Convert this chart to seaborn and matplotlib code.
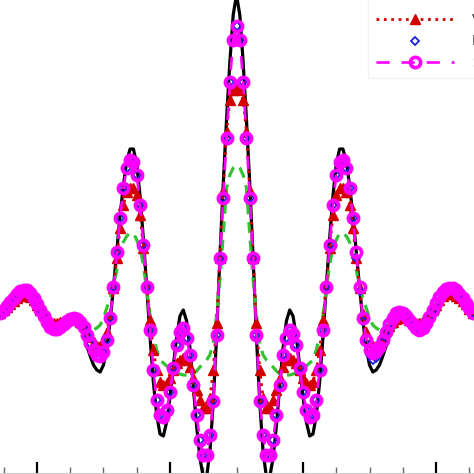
import numpy as np
import matplotlib
matplotlib.use('Agg')
import matplotlib.pyplot as plt
import seaborn as sns
from matplotlib.ticker import MultipleLocator

# sample grid (x) and the five curves
x_start, x_step, n_pts = 1.45, 0.05, 143
x_vals = x_start + x_step * np.arange(n_pts)

exact_y = [
    0.00, 0.05, 0.11, 0.16, 0.20, 0.22, 0.23, 0.23, 0.23, 0.20,
    0.15, 0.09, 0.02, -0.04, -0.10, -0.15, -0.17, -0.17, -0.15, -0.11,
    -0.08, -0.06, -0.05, -0.08, -0.14, -0.23, -0.33, -0.43, -0.52, -0.57,
    -0.59, -0.52, -0.35, -0.08, 0.26, 0.62, 0.98, 1.28, 1.52, 1.64,
    1.64, 1.49, 1.17, 0.74, 0.26, -0.24, -0.69, -1.02, -1.21, -1.23,
    -1.09, -0.84, -0.53, -0.24, -0.03, 0.03, -0.08, -0.35, -0.73, -1.13,
    -1.45, -1.64, -1.64, -1.39, -0.90, -0.24, 0.55, 1.28, 1.93, 2.51,
    2.98, 3.18,
    2.98, 2.51, 1.93, 1.28, 0.55, -0.24, -0.90, -1.39, -1.64, -1.64,
    -1.45, -1.13, -0.73, -0.35, -0.08, 0.03, -0.03, -0.24, -0.53, -0.84,
    -1.09, -1.23, -1.21, -1.02, -0.69, -0.24, 0.26, 0.74, 1.17, 1.49,
    1.64, 1.64, 1.52, 1.28, 0.98, 0.62, 0.26, -0.08, -0.35, -0.52,
    -0.59, -0.57, -0.52, -0.43, -0.33, -0.23, -0.10, -0.04, 0.00, -0.01,
    -0.04, -0.08, -0.13, -0.16, -0.17, -0.15, -0.10, -0.04, 0.02, 0.09,
    0.15, 0.20, 0.24, 0.25, 0.25, 0.23, 0.20, 0.16, 0.11, 0.05,
    0.00]

green_y = [
    0.00, 0.03, 0.06, 0.09, 0.12, 0.14, 0.15, 0.16, 0.15, 0.14,
    0.11, 0.08, 0.04, 0.00, -0.03, -0.06, -0.08, -0.09, -0.09, -0.09,
    -0.09, -0.10, -0.12, -0.14, -0.16, -0.17, -0.18, -0.18, -0.17, -0.15,
    -0.12, -0.05, 0.05, 0.15, 0.28, 0.43, 0.58, 0.71, 0.77, 0.80,
    0.80, 0.73, 0.65, 0.48, 0.23, -0.02, -0.22, -0.37, -0.47, -0.50,
    -0.53, -0.55, -0.58, -0.60, -0.61, -0.62, -0.62, -0.62, -0.61, -0.58,
    -0.54, -0.50, -0.47, -0.42, -0.30, -0.02, 0.33, 0.78, 1.25, 1.38,
    1.45, 1.48,
    1.45, 1.38, 1.25, 0.78, 0.33, -0.02, -0.30, -0.42, -0.47, -0.50,
    -0.54, -0.58, -0.61, -0.62, -0.62, -0.62, -0.61, -0.60, -0.58, -0.55,
    -0.53, -0.50, -0.47, -0.37, -0.22, -0.02, 0.23, 0.48, 0.65, 0.73,
    0.80, 0.80, 0.77, 0.71, 0.58, 0.43, 0.28, 0.15, 0.05, -0.05,
    -0.12, -0.15, -0.17, -0.18, -0.18, -0.17, -0.16, -0.14, -0.12, -0.10,
    -0.09, -0.09, -0.09, -0.09, -0.08, -0.06, -0.03, 0.00, 0.04, 0.08,
    0.11, 0.14, 0.15, 0.16, 0.15, 0.14, 0.12, 0.09, 0.06, 0.03,
    0.00]

red_y = [
    0.00, 0.03, 0.06, 0.09, 0.12, 0.15, 0.17, 0.18, 0.18, 0.16,
    0.13, 0.08, 0.03, -0.02, -0.06, -0.09, -0.10, -0.10, -0.09, -0.08,
    -0.07, -0.06, -0.06, -0.07, -0.09, -0.13, -0.18, -0.24, -0.29, -0.33,
    -0.33, -0.29, -0.19, -0.01, 0.25, 0.55, 0.85, 1.08, 1.21, 1.25,
    1.25, 1.18, 0.98, 0.65, 0.28, -0.07, -0.37, -0.57, -0.69, -0.72,
    -0.70, -0.65, -0.57, -0.50, -0.47, -0.45, -0.47, -0.54, -0.65, -0.77,
    -0.87, -0.95, -0.95, -0.85, -0.57, -0.10, 0.55, 1.22, 1.81, 2.13,
    2.23, 2.25,
    2.23, 2.13, 1.81, 1.22, 0.55, -0.10, -0.57, -0.85, -0.95, -0.95,
    -0.87, -0.77, -0.65, -0.54, -0.47, -0.45, -0.47, -0.50, -0.57, -0.65,
    -0.70, -0.72, -0.69, -0.57, -0.37, -0.07, 0.28, 0.65, 0.98, 1.18,
    1.25, 1.25, 1.21, 1.08, 0.85, 0.55, 0.25, -0.01, -0.19, -0.29,
    -0.33, -0.33, -0.29, -0.24, -0.18, -0.13, -0.09, -0.06, -0.04, -0.04,
    -0.05, -0.07, -0.09, -0.10, -0.10, -0.09, -0.06, -0.02, 0.03, 0.08,
    0.13, 0.17, 0.19, 0.20, 0.19, 0.17, 0.15, 0.12, 0.09, 0.04,
    0.00]

blue_y = [
    0.00, 0.03, 0.07, 0.11, 0.15, 0.19, 0.22, 0.23, 0.23, 0.20,
    0.15, 0.09, 0.03, -0.03, -0.09, -0.14, -0.16, -0.16, -0.14, -0.11,
    -0.08, -0.06, -0.05, -0.06, -0.09, -0.14, -0.22, -0.30, -0.38, -0.44,
    -0.45, -0.40, -0.27, -0.05, 0.26, 0.61, 0.95, 1.25, 1.45, 1.53,
    1.51, 1.38, 1.08, 0.68, 0.26, -0.17, -0.57, -0.87, -1.02, -1.04,
    -0.97, -0.79, -0.55, -0.32, -0.19, -0.15, -0.25, -0.42, -0.72, -1.02,
    -1.27, -1.42, -1.42, -1.22, -0.88, -0.22, 0.55, 1.15, 1.75, 2.31,
    2.73, 2.87,
    2.73, 2.31, 1.75, 1.15, 0.55, -0.22, -0.88, -1.22, -1.42, -1.42,
    -1.27, -1.02, -0.72, -0.42, -0.25, -0.17, -0.21, -0.32, -0.55, -0.79,
    -0.97, -1.04, -1.02, -0.87, -0.57, -0.17, 0.26, 0.68, 1.08, 1.38,
    1.51, 1.53, 1.45, 1.25, 0.95, 0.55, 0.22, -0.08, -0.30, -0.42,
    -0.47, -0.45, -0.40, -0.29, -0.19, -0.11, -0.05, 0.00, 0.01, 0.00,
    -0.03, -0.07, -0.11, -0.15, -0.17, -0.15, -0.10, -0.04, 0.03, 0.10,
    0.16, 0.21, 0.24, 0.25, 0.25, 0.23, 0.19, 0.15, 0.10, 0.05,
    0.00]

magenta_y = [
    0.00, 0.03, 0.07, 0.11, 0.15, 0.19, 0.22, 0.23, 0.23, 0.20,
    0.15, 0.09, 0.03, -0.03, -0.09, -0.14, -0.16, -0.16, -0.14, -0.11,
    -0.08, -0.06, -0.05, -0.06, -0.09, -0.14, -0.22, -0.30, -0.37, -0.42,
    -0.43, -0.39, -0.27, -0.05, 0.26, 0.61, 0.95, 1.25, 1.45, 1.53,
    1.51, 1.38, 1.08, 0.68, 0.26, -0.17, -0.57, -0.87, -1.02, -1.04,
    -0.97, -0.79, -0.55, -0.32, -0.19, -0.15, -0.25, -0.42, -0.72, -1.02,
    -1.27, -1.42, -1.42, -1.22, -0.88, -0.22, 0.55, 1.15, 1.75, 2.31,
    2.73, 2.87,
    2.73, 2.31, 1.75, 1.15, 0.55, -0.22, -0.88, -1.22, -1.42, -1.42,
    -1.27, -1.02, -0.72, -0.42, -0.25, -0.17, -0.21, -0.32, -0.55, -0.79,
    -0.97, -1.04, -1.02, -0.87, -0.57, -0.17, 0.26, 0.68, 1.08, 1.38,
    1.51, 1.53, 1.45, 1.25, 0.95, 0.61, 0.26, -0.05, -0.27, -0.37,
    -0.40, -0.38, -0.34, -0.27, -0.19, -0.11, -0.05, 0.00, 0.01, 0.00,
    -0.03, -0.07, -0.11, -0.15, -0.17, -0.15, -0.10, -0.04, 0.03, 0.10,
    0.16, 0.21, 0.24, 0.25, 0.25, 0.23, 0.19, 0.15, 0.10, 0.05,
    0.00]

labels = ['Exact', 'Gaussian', 'VMD', 'IVMD', 'SVMD']

sns.set_theme(style='white')
plt.rcParams['font.family'] = ['DejaVu Sans']

fig = plt.figure(figsize=(4.74, 4.74), dpi=100)
ax = fig.add_axes([0, 0, 1, 1])

sns.lineplot(x=x_vals, y=exact_y, color='black', linewidth=2.3,
             estimator=None, sort=False, ax=ax)
sns.lineplot(x=x_vals, y=green_y, color='#33c233', linewidth=2.3,
             linestyle=(0, (3.4, 2.4)), estimator=None, sort=False, ax=ax)
sns.lineplot(x=x_vals, y=red_y, color='#d40000', linewidth=2.0, linestyle=':',
             marker='^', markersize=6.5, markerfacecolor='#d40000',
             markeredgecolor='#d40000', markeredgewidth=1.0,
             estimator=None, sort=False, ax=ax)
sns.lineplot(x=x_vals, y=blue_y, color='#2020e0', linestyle='none',
             marker='D', markersize=4.5, markerfacecolor='none',
             markeredgecolor='#2020e0', markeredgewidth=1.3,
             estimator=None, sort=False, ax=ax)
sns.lineplot(x=x_vals, y=magenta_y, color='#ff00ff', linewidth=1.9,
             linestyle=(0, (5, 4.5)), marker='o', markersize=7.4,
             markerfacecolor='none', markeredgecolor='#ff00ff',
             markeredgewidth=2.6, estimator=None, sort=False, ax=ax)

ax.set_xlim(1.444, 8.571)
ax.set_ylim(-1.61, 3.13)
ax.set_xlabel('')
ax.set_ylabel('')

for side in ['left', 'right', 'top']:
    ax.spines[side].set_visible(False)
ax.spines['bottom'].set_color('#cccccc')
ax.spines['bottom'].set_linewidth(1.5)

ax.xaxis.set_major_locator(MultipleLocator(2))
ax.xaxis.set_minor_locator(MultipleLocator(0.5))
ax.tick_params(axis='x', which='major', direction='in', length=8.5, width=1.6,
               color='black', labelbottom=False, bottom=True)
ax.tick_params(axis='x', which='minor', direction='in', length=5, width=1.0,
               color='#666666', bottom=True)
ax.tick_params(axis='y', left=False, labelleft=False)

leg = ax.legend(ax.lines[:5], labels, loc='upper left',
                bbox_to_anchor=(0.776, 1.082), borderaxespad=0,
                fontsize=10, handlelength=5.6, handletextpad=1.3,
                labelspacing=0.55, borderpad=0.6, frameon=True,
                fancybox=False, edgecolor='#f2f2f2', framealpha=1)

fig.savefig('out.png', dpi=100)
